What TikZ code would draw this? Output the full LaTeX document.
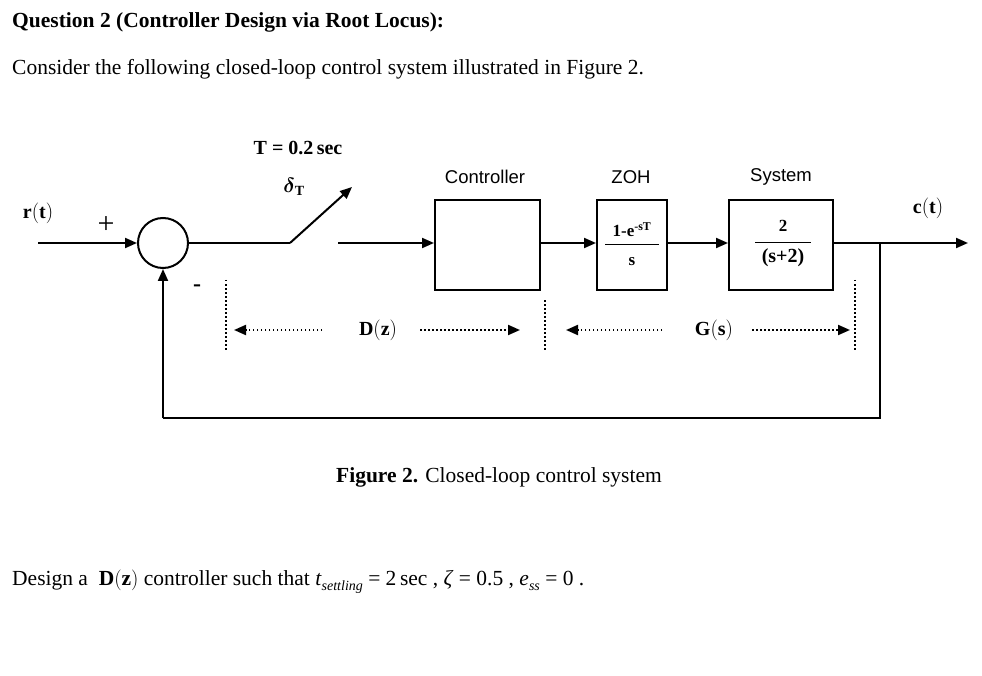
\documentclass[tikz,border=0pt]{standalone}
\usepackage{amsmath,amssymb}
\usepackage{fontspec}
\setmainfont{Liberation Serif}
\newfontfamily\sff{Liberation Sans}
\usetikzlibrary{arrows.meta}
\begin{document}
\begin{tikzpicture}[x=1pt,y=-1pt,
  ln/.style={line width=2pt},
  arr/.style={ln,-{Triangle[length=12pt,width=10pt]}},
  blk/.style={draw,line width=2pt,minimum width=#1,minimum height=90pt,inner sep=0pt},
  dt/.style={line width=2pt,dash pattern=on 1.5pt off 2.5pt},
  lab/.style={font=\sff\fontsize{18.5}{20}\selectfont},
  bf/.style={font=\bfseries\fontsize{20}{22}\selectfont},
  txt/.style={anchor=west,font=\fontsize{21.5}{24}\selectfont,inner sep=0pt}]
\useasboundingbox[fill=white] (0,0) rectangle (982,676);
\node[txt,font=\bfseries\fontsize{21.5}{24}\selectfont] (title) at (12,22) {Question 2 (Controller Design via Root Locus):};
\node[txt] (cons) at (12,69) {Consider the following closed-loop control system illustrated in Figure 2.};
% signals
\coordinate (rin) at (38,243);
\node[bf] (r) at (38,213) {r$(\mathbf{t})$};
\node[draw,circle,line width=2pt,minimum size=50pt,inner sep=0pt] (sum) at (163,243) {};
\node[font=\fontsize{30}{30}\selectfont] (plus) at (106,225) {+};
\node[font=\bfseries\fontsize{24}{24}\selectfont] (minus) at (197,288) {-};
\draw[arr] (rin) -- (sum);
\coordinate (sw1) at (290,243);
\coordinate (sw2) at (352,187);
\draw[ln] (sum) -- (sw1);
\draw[arr] (sw1) -- (sw2);
\node[bf] (T) at (298,148) {T = 0.2\,sec};
\node[bf] (dT) at (294,187) {$\boldsymbol{\delta}_{\mathbf{T}}$};
\node[blk=105pt] (ctrl) at (487.5,245) {};
\node[lab] at (485,177) {Controller};
\node[blk=70pt] (zoh) at (632,245) {};
\node[lab] at (631,177) {ZOH};
\node[font=\bfseries\fontsize{17}{19}\selectfont] at (632,230) {1-e$^{\textbf{-sT}}$};
\draw[line width=0.8pt] (605,244) -- (659,244);
\node[font=\bfseries\fontsize{17}{19}\selectfont] at (632,262) {s};
\node[blk=104pt] (sys) at (781,245) {};
\node[lab] at (781,177) {System};
\node[font=\bfseries\fontsize{17}{19}\selectfont] at (783,226) {2};
\draw[line width=0.8pt] (755,242) -- (811,242);
\node[bf] at (783,258) {(s+2)};
\coordinate (cin) at (338,243);
\draw[arr] (cin) -- (ctrl.west |- cin);
\draw[arr] (ctrl.east |- cin) -- (zoh.west |- cin);
\draw[arr] (zoh.east |- cin) -- (sys.west |- cin);
\coordinate (out) at (968,243);
\coordinate (tap) at (880,243);
\draw[arr] (sys.east |- out) -- (out);
\node[bf] (c) at (928,208) {c$(\mathbf{t})$};
\coordinate (fb1) at (880,418);
\coordinate (fb2) at (163,418);
\draw[ln] (tap) -- (fb1) -- (fb2);
\draw[arr] (fb2) -- (sum);
% dotted markers
\coordinate (v1a) at (226,280); \coordinate (v1b) at (226,352);
\coordinate (v2a) at (545,300); \coordinate (v2b) at (545,352);
\coordinate (v3a) at (855,280); \coordinate (v3b) at (855,352);
\draw[dt] (v1a) -- (v1b);
\draw[dt] (v2a) -- (v2b);
\draw[dt] (v3a) -- (v3b);
\node[bf] (Dz) at (378,330) {D$(\mathbf{z})$};
\node[bf] (Gs) at (714,330) {G$(\mathbf{s})$};
\coordinate (d1) at (234,330); \coordinate (d2) at (322,330);
\coordinate (d3) at (420,330); \coordinate (d4) at (520,330);
\coordinate (g1) at (566,330); \coordinate (g2) at (662,330);
\coordinate (g3) at (752,330); \coordinate (g4) at (850,330);
\draw[dt,-{Triangle[length=12pt,width=10pt]}] (d2) -- (d1);
\draw[dt,-{Triangle[length=12pt,width=10pt]}] (d3) -- (d4);
\draw[dt,-{Triangle[length=12pt,width=10pt]}] (g2) -- (g1);
\draw[dt,-{Triangle[length=12pt,width=10pt]}] (g3) -- (g4);
\node[font=\fontsize{21.5}{24}\selectfont] (cap) at (499,477) {\textbf{Figure 2.} Closed-loop control system};
\node[txt] (des) at (12,582) {Design a \ \textbf{D$(\mathbf{z})$} controller such that \textit{t}\raisebox{-0.5ex}{\fontsize{14}{14}\selectfont\textit{settling}} = 2\,sec , \textit{ζ} = 0.5 , \textit{e}\raisebox{-0.5ex}{\fontsize{14}{14}\selectfont\textit{ss}} = 0 .};
\end{tikzpicture}
\end{document}
